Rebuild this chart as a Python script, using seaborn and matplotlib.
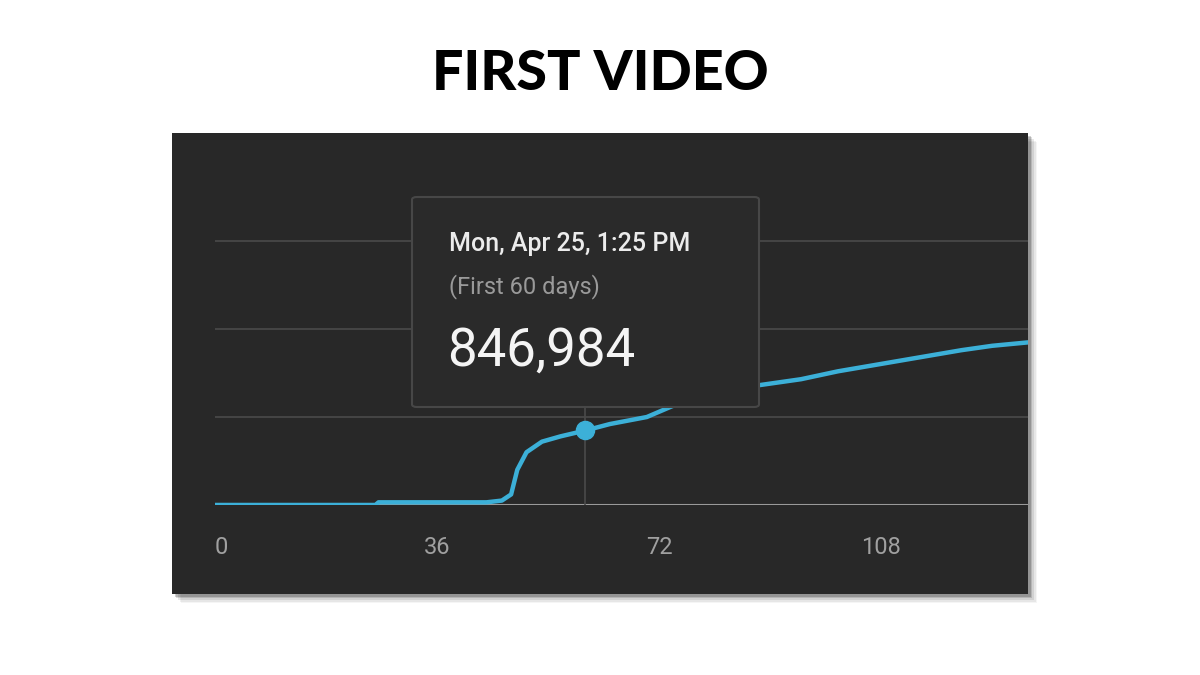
import matplotlib
matplotlib.use("Agg")
import matplotlib.pyplot as plt
import seaborn as sns
import pandas as pd
from matplotlib.patches import Rectangle, FancyBboxPatch

# cumulative views (millions) vs. days since upload
days = [0, 26, 26.5, 44, 46.5, 48, 49, 50.5, 53, 56, 60, 64, 70, 74, 80, 88, 95, 101, 111, 121, 126, 132]
views = [0, 0, 0.03, 0.03, 0.05, 0.12, 0.40, 0.60, 0.72, 0.78, 0.846, 0.92, 1.0, 1.12, 1.28, 1.36, 1.43, 1.52, 1.64, 1.76, 1.81, 1.85]
x_ticks = [0, 36, 72, 108]
grid_levels = [1, 2, 3]
hover_day, hover_value = 60, 0.846984

df = pd.DataFrame({"day": days, "views": views})

sns.set_theme(style="white")
plt.rcParams["font.family"] = ["Roboto", "DejaVu Sans"]

fig = plt.figure(figsize=(12, 6.75), dpi=100)
fig.patch.set_facecolor("white")

fig.text(0.5, 0.89, "FIRST VIDEO", ha="center", va="center", fontsize=40,
         fontweight="black", family=["Lato", "DejaVu Sans"], color="black")

# dark panel with soft shadow
px, py, pw, ph = 0.1433, 0.12, 0.7133, 0.683
for i, a in enumerate([0.04, 0.06, 0.09, 0.13, 0.18]):
    off = 0.014 - i * 0.0025
    fig.patches.append(Rectangle((px + off * 0.55, py - off), pw, ph, transform=fig.transFigure,
                                 facecolor="black", alpha=a, edgecolor="none", zorder=0))
fig.patches.append(Rectangle((px, py), pw, ph, transform=fig.transFigure,
                             facecolor="#282828", edgecolor="none", zorder=1))

ax = fig.add_axes([0.1792, 0.2519, 1028 / 1200 - 0.1792, 0.456])
ax.set_facecolor("none")
ax.set_zorder(2)
for lvl in grid_levels:
    ax.axhline(lvl, color="#4a4a4a", lw=1.2, zorder=1)
ax.axhline(0, color="#9a9a9a", lw=1.5, zorder=1)
ax.plot([hover_day, hover_day], [0, 1.1], color="#4a4a4a", lw=1.2, zorder=1)

sns.lineplot(data=df, x="day", y="views", ax=ax, color="#3cb0d8", lw=3.2, zorder=3)
ax.scatter([hover_day], [hover_value], s=170, color="#3cb0d8", zorder=4)

ax.set_xlim(0, 131.8)
ax.set_ylim(0, 3.5)
ax.set_xticks(x_ticks)
ax.set_xticklabels([str(t) for t in x_ticks], color="#a0a0a0", fontsize=17)
ax.tick_params(axis="x", length=6, color="#9a9a9a", pad=16)
ax.set_yticks([])
ax.set_xlabel("")
ax.set_ylabel("")
for s in ax.spines.values():
    s.set_visible(False)
ax.get_xticklabels()[0].set_horizontalalignment("left")

# tooltip
tx, ty, tw, th = 412 / 1200, 1 - 407 / 675, 347 / 1200, 210 / 675
fig.patches.append(FancyBboxPatch((tx, ty), tw, th, boxstyle="round,pad=0,rounding_size=0.004",
                                  transform=fig.transFigure, facecolor="#2a2a2a",
                                  edgecolor="#474747", lw=1.5, zorder=5))
fig.text(449 / 1200, 1 - 244 / 675, "Mon, Apr 25, 1:25 PM", fontsize=18, color="#ececec",
         fontweight="medium", va="center", ha="left", zorder=6)
fig.text(449 / 1200, 1 - 287 / 675, "(First 60 days)", fontsize=17, color="#9a9a9a",
         va="center", ha="left", zorder=6)
fig.text(447 / 1200, 1 - 351 / 675, f"{hover_value * 1e6:,.0f}", fontsize=38, color="#f4f4f4",
         va="center", ha="left", zorder=6)

fig.savefig("out.png", dpi=100)
